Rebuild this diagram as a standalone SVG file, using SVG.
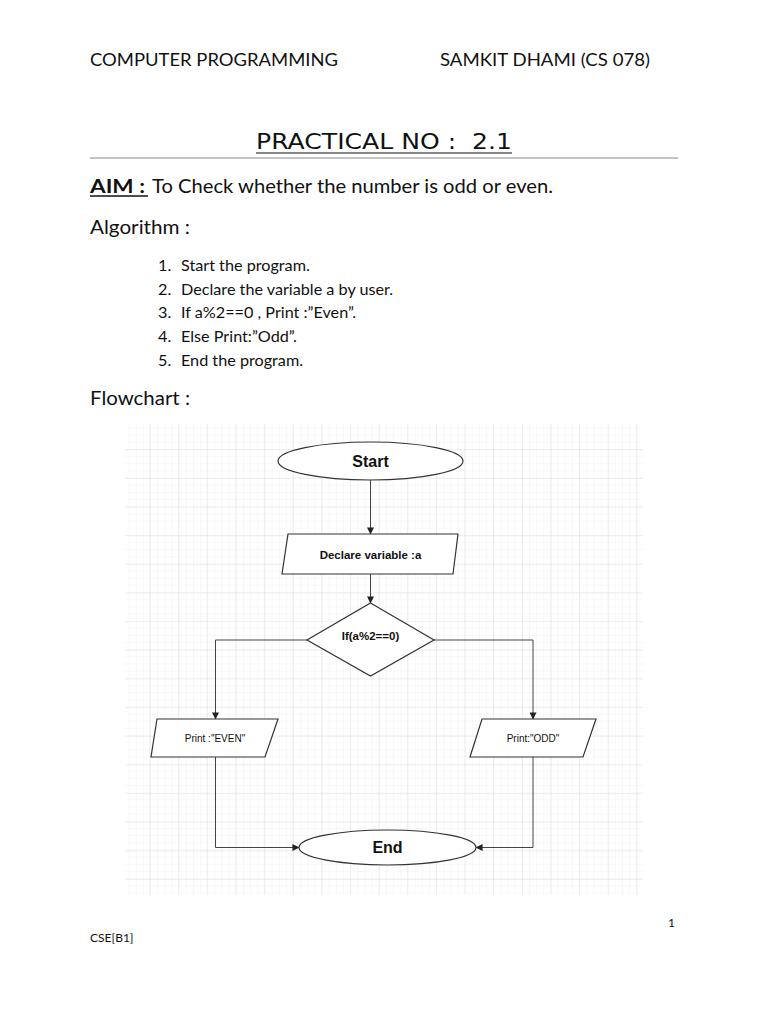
<svg xmlns="http://www.w3.org/2000/svg" width="768" height="1024" viewBox="0 0 768 1024">
<defs>
<style>
.doc{font-family:Lato,"Liberation Sans",sans-serif;fill:#111}
.fc{font-family:"Liberation Sans",Arial,sans-serif;fill:#111;text-anchor:middle}
.shape{fill:#fff;stroke:#333;stroke-width:1.2}
.conn{fill:none;stroke:#444;stroke-width:1}
</style>
<pattern id="minor" x="122.4" y="421.3" width="7.15" height="7.15" patternUnits="userSpaceOnUse">
<path d="M7.15 0V7.15M0 7.15H7.15" fill="none" stroke="#f1f1f1" stroke-width="1"/>
</pattern>
<pattern id="major" x="121.7" y="421.6" width="28.65" height="28.65" patternUnits="userSpaceOnUse">
<path d="M28.65 0V28.65M0 28.65H28.65" fill="none" stroke="#e0e0e0" stroke-width="1"/>
</pattern>
<marker id="arr" viewBox="0 0 8 8" refX="7.5" refY="4" markerWidth="7" markerHeight="7" markerUnits="userSpaceOnUse" orient="auto">
<path d="M0 0L8 4L0 8z" fill="#222"/>
</marker>
</defs>
<rect width="768" height="1024" fill="#fff"/>

<g id="header">
<text class="doc" x="90" y="66" font-size="18" textLength="248" lengthAdjust="spacingAndGlyphs">COMPUTER PROGRAMMING</text>
<text class="doc" x="440" y="66" font-size="18" textLength="210" lengthAdjust="spacingAndGlyphs">SAMKIT DHAMI (CS 078)</text>
<text x="256" y="149" font-family="'DejaVu Sans',sans-serif" font-size="22" fill="#111" textLength="256" lengthAdjust="spacingAndGlyphs" xml:space="preserve">PRACTICAL NO :  2.1</text>
<line x1="256" y1="153" x2="512" y2="153" stroke="#111" stroke-width="1.2"/>
<line x1="90" y1="158" x2="678" y2="158" stroke="#888" stroke-width="1"/>
</g>

<g id="body">
<text class="doc" x="90" y="193" font-size="19.5" font-weight="bold" textLength="55" lengthAdjust="spacingAndGlyphs">AIM :</text>
<line x1="90" y1="196" x2="148" y2="196" stroke="#111" stroke-width="1.5"/>
<text class="doc" x="152" y="193" font-size="19.5" textLength="401" lengthAdjust="spacingAndGlyphs">To Check whether the number is odd or even.</text>
<text class="doc" x="90" y="234" font-size="19.5" textLength="100" lengthAdjust="spacingAndGlyphs">Algorithm :</text>
<g font-size="16.2" class="doc">
<text class="doc" x="158" y="271">1.</text><text class="doc" x="181" y="271">Start the program.</text>
<text class="doc" x="158" y="295">2.</text><text class="doc" x="181" y="295">Declare the variable a by user.</text>
<text class="doc" x="158" y="318">3.</text><text class="doc" x="181" y="318">If a%2==0 , Print :”Even”.</text>
<text class="doc" x="158" y="342">4.</text><text class="doc" x="181" y="342">Else Print:”Odd”.</text>
<text class="doc" x="158" y="366">5.</text><text class="doc" x="181" y="366">End the program.</text>
</g>
<text class="doc" x="90" y="405" font-size="19.5" textLength="100" lengthAdjust="spacingAndGlyphs">Flowchart :</text>
</g>

<g id="grid">
<rect x="125" y="424" width="518" height="471" fill="url(#minor)"/>
<rect x="125" y="424" width="518" height="471" fill="url(#major)"/>
</g>

<g id="connectors">
<line class="conn" x1="370.5" y1="480" x2="370.5" y2="534" marker-end="url(#arr)"/>
<line class="conn" x1="370.5" y1="574" x2="370.5" y2="603" marker-end="url(#arr)"/>
<path class="conn" d="M307 640H215.5V719" marker-end="url(#arr)"/>
<path class="conn" d="M434 640H533V719" marker-end="url(#arr)"/>
<path class="conn" d="M215.5 757V847.5H299" marker-end="url(#arr)"/>
<path class="conn" d="M533 757V847.5H476" marker-end="url(#arr)"/>
</g>

<g id="start">
<ellipse class="shape" cx="370.5" cy="461" rx="92.5" ry="19"/>
<text class="fc" x="370.5" y="467" font-size="16" font-weight="bold">Start</text>
</g>
<g id="declare">
<polygon class="shape" points="288,534 458,534 453,574 282,574"/>
<text class="fc" x="370.5" y="559" font-size="11.5" font-weight="bold">Declare variable :a</text>
</g>
<g id="decision">
<polygon class="shape" points="370.5,603 434,640 370.5,676 307,640"/>
<text class="fc" x="370.5" y="640" font-size="11.5" font-weight="bold">If(a%2==0)</text>
</g>
<g id="even">
<polygon class="shape" points="157,719 278,719 265,757 151,757"/>
<text class="fc" x="215" y="742" font-size="10">Print :"EVEN"</text>
</g>
<g id="odd">
<polygon class="shape" points="482,719 596,719 583,757 470,757"/>
<text class="fc" x="533" y="742" font-size="10">Print:"ODD"</text>
</g>
<g id="end">
<ellipse class="shape" cx="387.5" cy="847.5" rx="88.5" ry="17.5"/>
<text class="fc" x="387.5" y="853" font-size="16" font-weight="bold">End</text>
</g>

<g id="footer">
<text class="doc" x="675" y="927" font-size="12" text-anchor="end">1</text>
<text class="doc" x="90" y="942" font-size="12">CSE[B1]</text>
</g>
</svg>
